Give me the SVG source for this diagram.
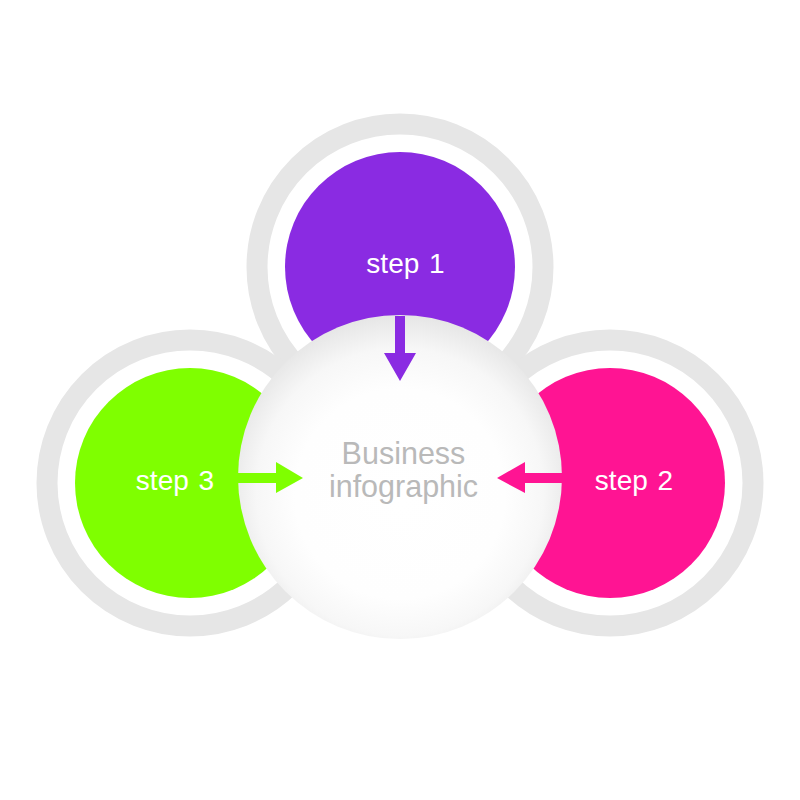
<svg xmlns="http://www.w3.org/2000/svg" width="800" height="800" viewBox="0 0 800 800">
<style>
.ring{fill:none;stroke:#e6e6e6;stroke-width:21}
.t{font-family:"Liberation Sans",Arial,sans-serif;text-anchor:middle}
.w{fill:#fff;font-size:28px;word-spacing:2px}
.g{fill:#b9b9b9;font-size:30.5px}
</style>
<defs>
<radialGradient id="ball" gradientUnits="userSpaceOnUse" cx="400" cy="490" r="175" fx="400" fy="500">
<stop offset="0" stop-color="#ffffff"/>
<stop offset="0.6" stop-color="#fefefe"/>
<stop offset="0.82" stop-color="#f7f7f7"/>
<stop offset="1" stop-color="#e6e6e6"/>
</radialGradient>
</defs>
<rect width="800" height="800" fill="#fff"/>
<g id="node-step1"><circle class="ring" cx="400" cy="267" r="143"/><circle cx="400" cy="267" r="115" fill="#8a2be2"/></g>
<g id="node-step2"><circle class="ring" cx="610" cy="483" r="143"/><circle cx="610" cy="483" r="115" fill="#ff1493"/></g>
<g id="node-step3"><circle class="ring" cx="190" cy="483" r="143"/><circle cx="190" cy="483" r="115" fill="#7fff00"/></g>
<g id="node-center"><circle cx="400" cy="477" r="162" fill="url(#ball)"/>
<text class="t g" x="403.500" y="464">Business</text><text class="t g" x="403.500" y="497">infographic</text></g>
<g id="labels"><text class="t w" x="405.500" y="273">step 1</text><text class="t w" x="634" y="490">step 2</text><text class="t w" x="175" y="490">step 3</text></g>
<g id="connectors">
<path fill="#8a2be2" d="M395 316H405V353H416L400 381L384 353H395Z"/>
<path fill="#ff1493" d="M562 473V483H525V493L497 478L525 462V473Z"/>
<path fill="#7fff00" d="M238 473V483H276V493L303 478L276 462V473Z"/>
</g>
</svg>
